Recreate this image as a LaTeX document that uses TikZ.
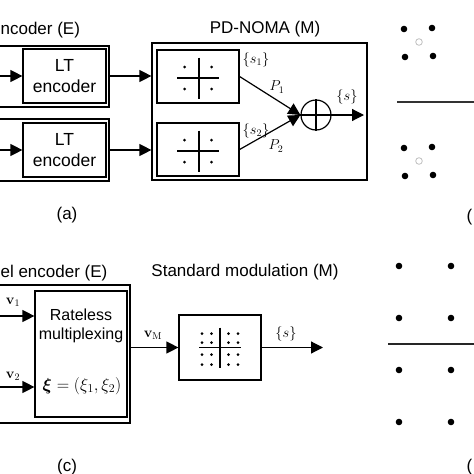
\documentclass[tikz,border=0pt]{standalone}
\usepackage{amsmath}
\usepackage[no-math]{fontspec}
\setmainfont{Liberation Sans}
\usetikzlibrary{arrows.meta,calc}
\begin{document}
\begin{tikzpicture}[x=1pt,y=-1pt,
  line width=1.2pt,
  >={Triangle[length=12pt,width=12pt]},
  blk/.style={draw,line width=1.2pt,inner sep=0pt,fill=none},
  lbl/.style={inner sep=0pt,font=\fontsize{17}{20}\selectfont},
  mlbl/.style={inner sep=0pt,font=\fontsize{14.5}{16}\selectfont},
  ghost/.style={draw=black!25,line width=0.8pt,fill=white}]
\useasboundingbox (0,0) rectangle (474,474);
\clip (0,0) rectangle (474,474);

% ---------------- (a) ----------------
\node[lbl,anchor=west] (tE) at (0,30) {ncoder (E)};
\node[blk,minimum width=130pt,minimum height=61pt] (oa1) at (44,76.5) {};
\node[blk,minimum width=83pt,minimum height=54pt,align=center,font=\fontsize{17.5}{21}\selectfont] (lt1) at (64.5,76) {LT\\encoder};
\node[blk,minimum width=130pt,minimum height=62pt] (oa2) at (44,150) {};
\node[blk,minimum width=83pt,minimum height=54pt,align=center,font=\fontsize{17.5}{21}\selectfont] (lt2) at (64.5,150) {LT\\encoder};
\coordinate (ina1) at (-2,76);
\coordinate (ina2) at (-2,150);
\draw[->] (ina1) -- (lt1.west);
\draw[->] (ina2) -- (lt2.west);
\node[lbl] (la) at (67,215) {(a)};

% PD-NOMA
\node[lbl] (tM) at (265,29) {PD-NOMA (M)};
\node[blk,minimum width=215pt,minimum height=137pt] (pd) at (259.5,111.5) {};
\node[blk,minimum width=82pt,minimum height=53pt] (m1) at (198,76.5) {};
\node[blk,minimum width=82pt,minimum height=53pt] (m2) at (198,149.5) {};
\draw[->] (oa1.east |- lt1.east) -- (pd.west |- lt1.east);
\draw[->] (oa2.east |- lt2.east) -- (pd.west |- lt2.east);
\foreach \m in {m1,m2}{
  \begin{scope}[shift={(\m.center)}]
    \draw (-21,1.5) -- (21,1.5);
    \draw (1,-19) -- (1,22);
    \foreach \dx in {-13.5,13.5}\foreach \dy in {-9.5,12.5}
      \fill (\dx,\dy) circle (1.5pt);
  \end{scope}}
\node[draw,circle,line width=1.2pt,minimum size=30pt,inner sep=0pt] (sum) at (316,115) {};
\draw (sum.north) -- (sum.south);
\draw (sum.west) -- (sum.east);
\draw[->] (m1.east) -- (sum.west);
\draw[->] (m2.east) -- (sum.west);
\coordinate (outa) at (364,115);
\draw[->] (sum.east) -- (outa);
\node[mlbl] (s1) at (256,60) {$\{s_1\}$};
\node[mlbl] (s2) at (256,131) {$\{s_2\}$};
\node[mlbl] (p1) at (277,87) {$P_1$};
\node[mlbl] (p2) at (276,146) {$P_2$};
\node[mlbl] (sa) at (347,97) {$\{s\}$};

% ---------------- (b) ----------------
\foreach \yy in {0,119}{
  \fill (404,29+\yy) circle (3.3pt);
  \fill (432,28+\yy) circle (3.3pt);
  \fill (405,57+\yy) circle (3.3pt);
  \fill (433,56+\yy) circle (3.3pt);
  \draw[ghost] (419,42+\yy) circle (3.3pt);
}
\draw[line width=1.4pt,black!80] (397,102) -- (476,102);
\node[lbl,anchor=west] (lb) at (466,217) {(};

% ---------------- (c) ----------------
\node[lbl,anchor=west] (tE2) at (0,273) {el encoder (E)};
\node[blk,minimum width=140pt,minimum height=138pt] (oc) at (60,354) {};
\node[blk,minimum width=92pt,minimum height=126pt] (rm) at (81,354) {};
\node[inner sep=0pt,align=center,font=\fontsize{16}{19}\selectfont] (rtx) at (81,326) {Rateless\\multiplexing};
\node[inner sep=0pt,font=\fontsize{16.5}{19}\selectfont] (xi) at (82,386) {$\boldsymbol{\xi}=(\xi_1,\xi_2)$};
\coordinate (inc1) at (-2,316);
\coordinate (inc2) at (-2,387);
\draw[->] (inc1) -- (inc1 -| rm.west);
\draw[->] (inc2) -- (inc2 -| rm.west);
\node[mlbl] (v1) at (13,302) {$\mathbf{v}_1$};
\node[mlbl] (v2) at (13,376) {$\mathbf{v}_2$};

\node[lbl] (tS) at (245,272) {Standard modulation (M)};
\node[blk,minimum width=82pt,minimum height=65pt] (sm) at (220,347.5) {};
\draw[->] (oc.east |- sm.west) -- (sm.west);
\node[mlbl] (vM) at (153,335) {$\mathbf{v}_{\mathrm{M}}$};
\begin{scope}[shift={(sm.center)}]
  \draw (-21,0) -- (21,0);
  \draw (0,-20) -- (0,20);
  \foreach \dx in {-18,-8.5,8.5,18}\foreach \dy in {-14,-5,7,17}
    \fill (\dx,\dy) circle (1.5pt);
\end{scope}
\coordinate (outc) at (323,347.5);
\draw[->] (sm.east) -- (outc);
\node[mlbl] (sc) at (286,334) {$\{s\}$};
\node[lbl] (lc) at (67,467) {(c)};

% ---------------- (d) ----------------
\foreach \xx in {399,451}\foreach \yy in {266,318,370,422}
  \fill (\xx,\yy) circle (3.3pt);
\draw[line width=1.4pt,black!85] (388,344) -- (476,344);
\node[lbl,anchor=west] (ld) at (466,467) {(};
\end{tikzpicture}
\end{document}
